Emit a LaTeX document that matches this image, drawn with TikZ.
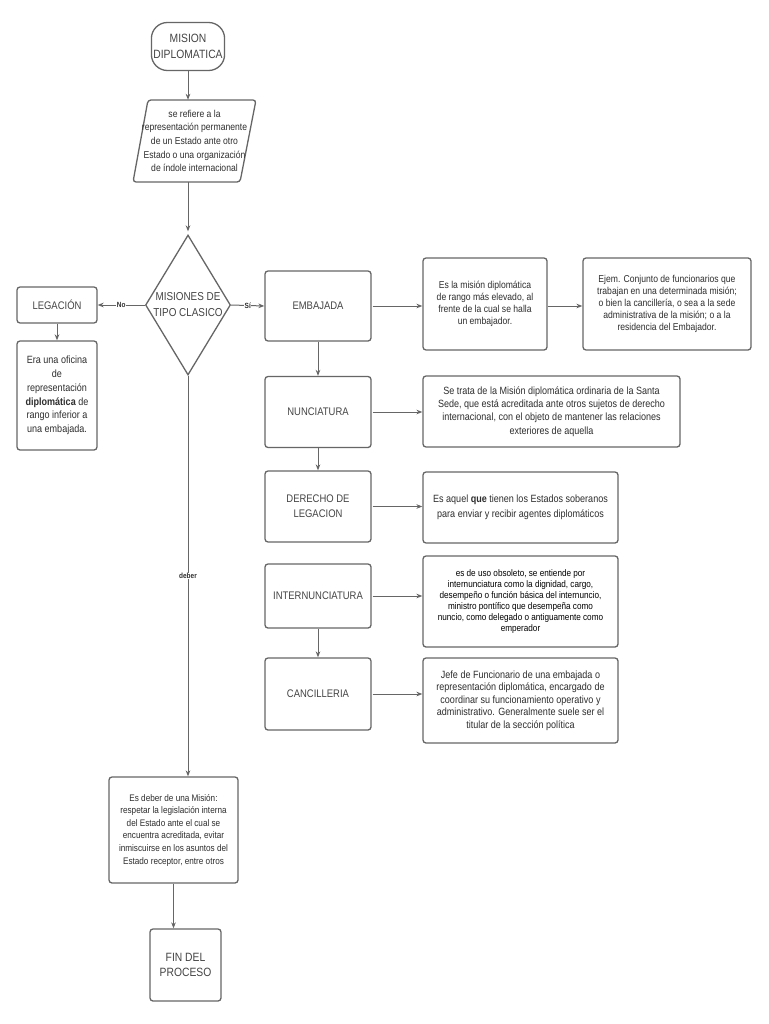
\documentclass[tikz,border=0pt]{standalone}
\usepackage{fontspec}
\setmainfont[FakeStretch=0.86]{Liberation Sans}
\usetikzlibrary{shapes.geometric,arrows.meta}
\definecolor{bc}{HTML}{666666}
\definecolor{tc}{HTML}{2E2E2E}
\definecolor{hc}{HTML}{444444}
\begin{document}
\begin{tikzpicture}[x=1pt,y=-1pt,
  box/.style={draw=bc, line width=1.3pt, rounded corners=3pt, fill=white, text=tc, align=center, inner sep=2pt},
  head/.style={text=hc, font=\fontsize{11}{15}\selectfont},
  body/.style={font=\fontsize{10}{12}\selectfont},
  arr/.style={draw=bc, line width=1pt, -{Stealth[length=6pt,width=4.6pt]}},
  lbl/.style={font=\fontsize{7.5}{8}\selectfont\bfseries, text=tc, fill=white, inner sep=0.6pt}]
\useasboundingbox[fill=white] (0,0) rectangle (768,1024);

% top
\node[box, head, rounded corners=16pt, minimum width=70, minimum height=48, font=\fontsize{12}{16}\selectfont] (mision) at (188,46.5) {MISION\\DIPLOMATICA};
\draw[draw=bc, line width=1.3pt, rounded corners=3pt] (148,100) -- (256,100) -- (240,182) -- (133,182) -- cycle;
\node[text=tc, align=center, minimum width=115, minimum height=82, inner sep=0pt, font=\fontsize{10}{13.7}\selectfont] (para) at (194.5,141)
  {se refiere a la\\representación permanente\\de un Estado ante otro\\Estado o una organización\\de índole internacional};

% diamond
\node[draw=bc, line width=1.3pt, shape=diamond, aspect=0.607, minimum width=85, minimum height=140, inner sep=0pt, text=hc, align=center, font=\fontsize{11.5}{16}\selectfont] (diam) at (188,305) {MISIONES DE\\TIPO CLASICO};

% left
\node[box, head, minimum width=80, minimum height=36] (legacion) at (57,305) {LEGACIÓN};
\node[box, minimum width=80, minimum height=109, font=\fontsize{10.5}{13.8}\selectfont] (era) at (57,395.5)
  {Era una oficina\\de\\representación\\\textbf{diplomática} de\\rango inferior a\\una embajada.};

% center column
\node[box, head, minimum width=106, minimum height=70] (embajada) at (318,306) {EMBAJADA};
\node[box, head, minimum width=106, minimum height=71] (nunc) at (318,412) {NUNCIATURA};
\node[box, head, minimum width=106, minimum height=71] (derecho) at (318,506.5) {DERECHO DE\\LEGACION};
\node[box, head, minimum width=106, minimum height=64] (intern) at (318,596) {INTERNUNCIATURA};
\node[box, head, minimum width=106, minimum height=72] (cancil) at (318,694) {CANCILLERIA};

% right texts
\node[box, body, minimum width=124, minimum height=92] (esla) at (485,304)
  {Es la misión diplomática\\de rango más elevado, al\\frente de la cual se halla\\un embajador.};
\node[box, body, minimum width=168, minimum height=92] (ejem) at (667,304)
  {Ejem. Conjunto de funcionarios que\\trabajan en una determinada misión;\\o bien la cancillería, o sea a la sede\\administrativa de la misión; o a la\\residencia del Embajador.};
\node[box, minimum width=257, minimum height=71, font=\fontsize{10.5}{13.3}\selectfont] (setrata) at (551.5,411.5)
  {Se trata de la Misión diplomática ordinaria de la Santa\\Sede, que está acreditada ante otros sujetos de derecho\\internacional, con el objeto de mantener las relaciones\\exteriores de aquella};
\node[box, minimum width=195, minimum height=71, font=\fontsize{10.5}{15}\selectfont] (esaquel) at (520.5,507.5)
  {Es aquel \textbf{que} tienen los Estados soberanos\\para enviar y recibir agentes diplomáticos};
\node[box, minimum width=195, minimum height=91, text=black, font=\fontsize{9.5}{11}\selectfont] (esdeuso) at (520.5,601.5)
  {es de uso obsoleto, se entiende por\\internunciatura como la dignidad, cargo,\\desempeño o función básica del internuncio,\\ministro pontífico que desempeña como\\nuncio, como delegado o antiguamente como\\emperador};
\node[box, minimum width=195, minimum height=85, font=\fontsize{10.5}{12.5}\selectfont] (jefe) at (520.5,700.5)
  {Jefe de Funcionario de una embajada o\\representación diplomática, encargado de\\coordinar su funcionamiento operativo y\\administrativo. Generalmente suele ser el\\titular de la sección política};

% bottom
\node[box, minimum width=129, minimum height=106, font=\fontsize{9.5}{12.6}\selectfont] (deber) at (173.5,830)
  {Es deber de una Misión:\\respetar la legislación interna\\del Estado ante el cual se\\encuentra acreditada, evitar\\inmiscuirse en los asuntos del\\Estado receptor, entre otros};
\node[box, head, minimum width=71, minimum height=72, font=\fontsize{12}{15}\selectfont] (fin) at (185.5,965) {FIN DEL\\PROCESO};

% connectors
\draw[arr] (mision.south) -- (mision.south |- para.north);
\draw[arr, shorten >=3pt] (mision.south |- para.south) -- (diam.north);
\draw[arr] (diam.west) -- node[lbl] {No} (legacion.east);
\draw[arr] (diam.east) -- node[lbl] {Sí} (embajada.west);
\draw[arr] (legacion) -- (era);
\draw[arr] (diam.south) -- node[lbl] {deber} (deber.north -| diam.south);
\draw[arr] (deber.south) -- (fin.north -| deber.south);
\draw[arr] (embajada) -- (nunc);
\draw[arr] (nunc) -- (derecho);
\draw[arr] (intern) -- (cancil);
\draw[arr] ([xshift=1pt]embajada.east) -- (esla.west |- embajada.east);
\draw[arr] (esla.east |- embajada.east) -- (ejem.west |- embajada.east);
\draw[arr] ([xshift=1pt]nunc.east) -- (setrata.west |- nunc.east);
\draw[arr] ([xshift=1pt]derecho.east) -- (esaquel.west |- derecho.east);
\draw[arr] ([xshift=1pt]intern.east) -- (esdeuso.west |- intern.east);
\draw[arr] ([xshift=1pt]cancil.east) -- (jefe.west |- cancil.east);
\end{tikzpicture}
\end{document}
